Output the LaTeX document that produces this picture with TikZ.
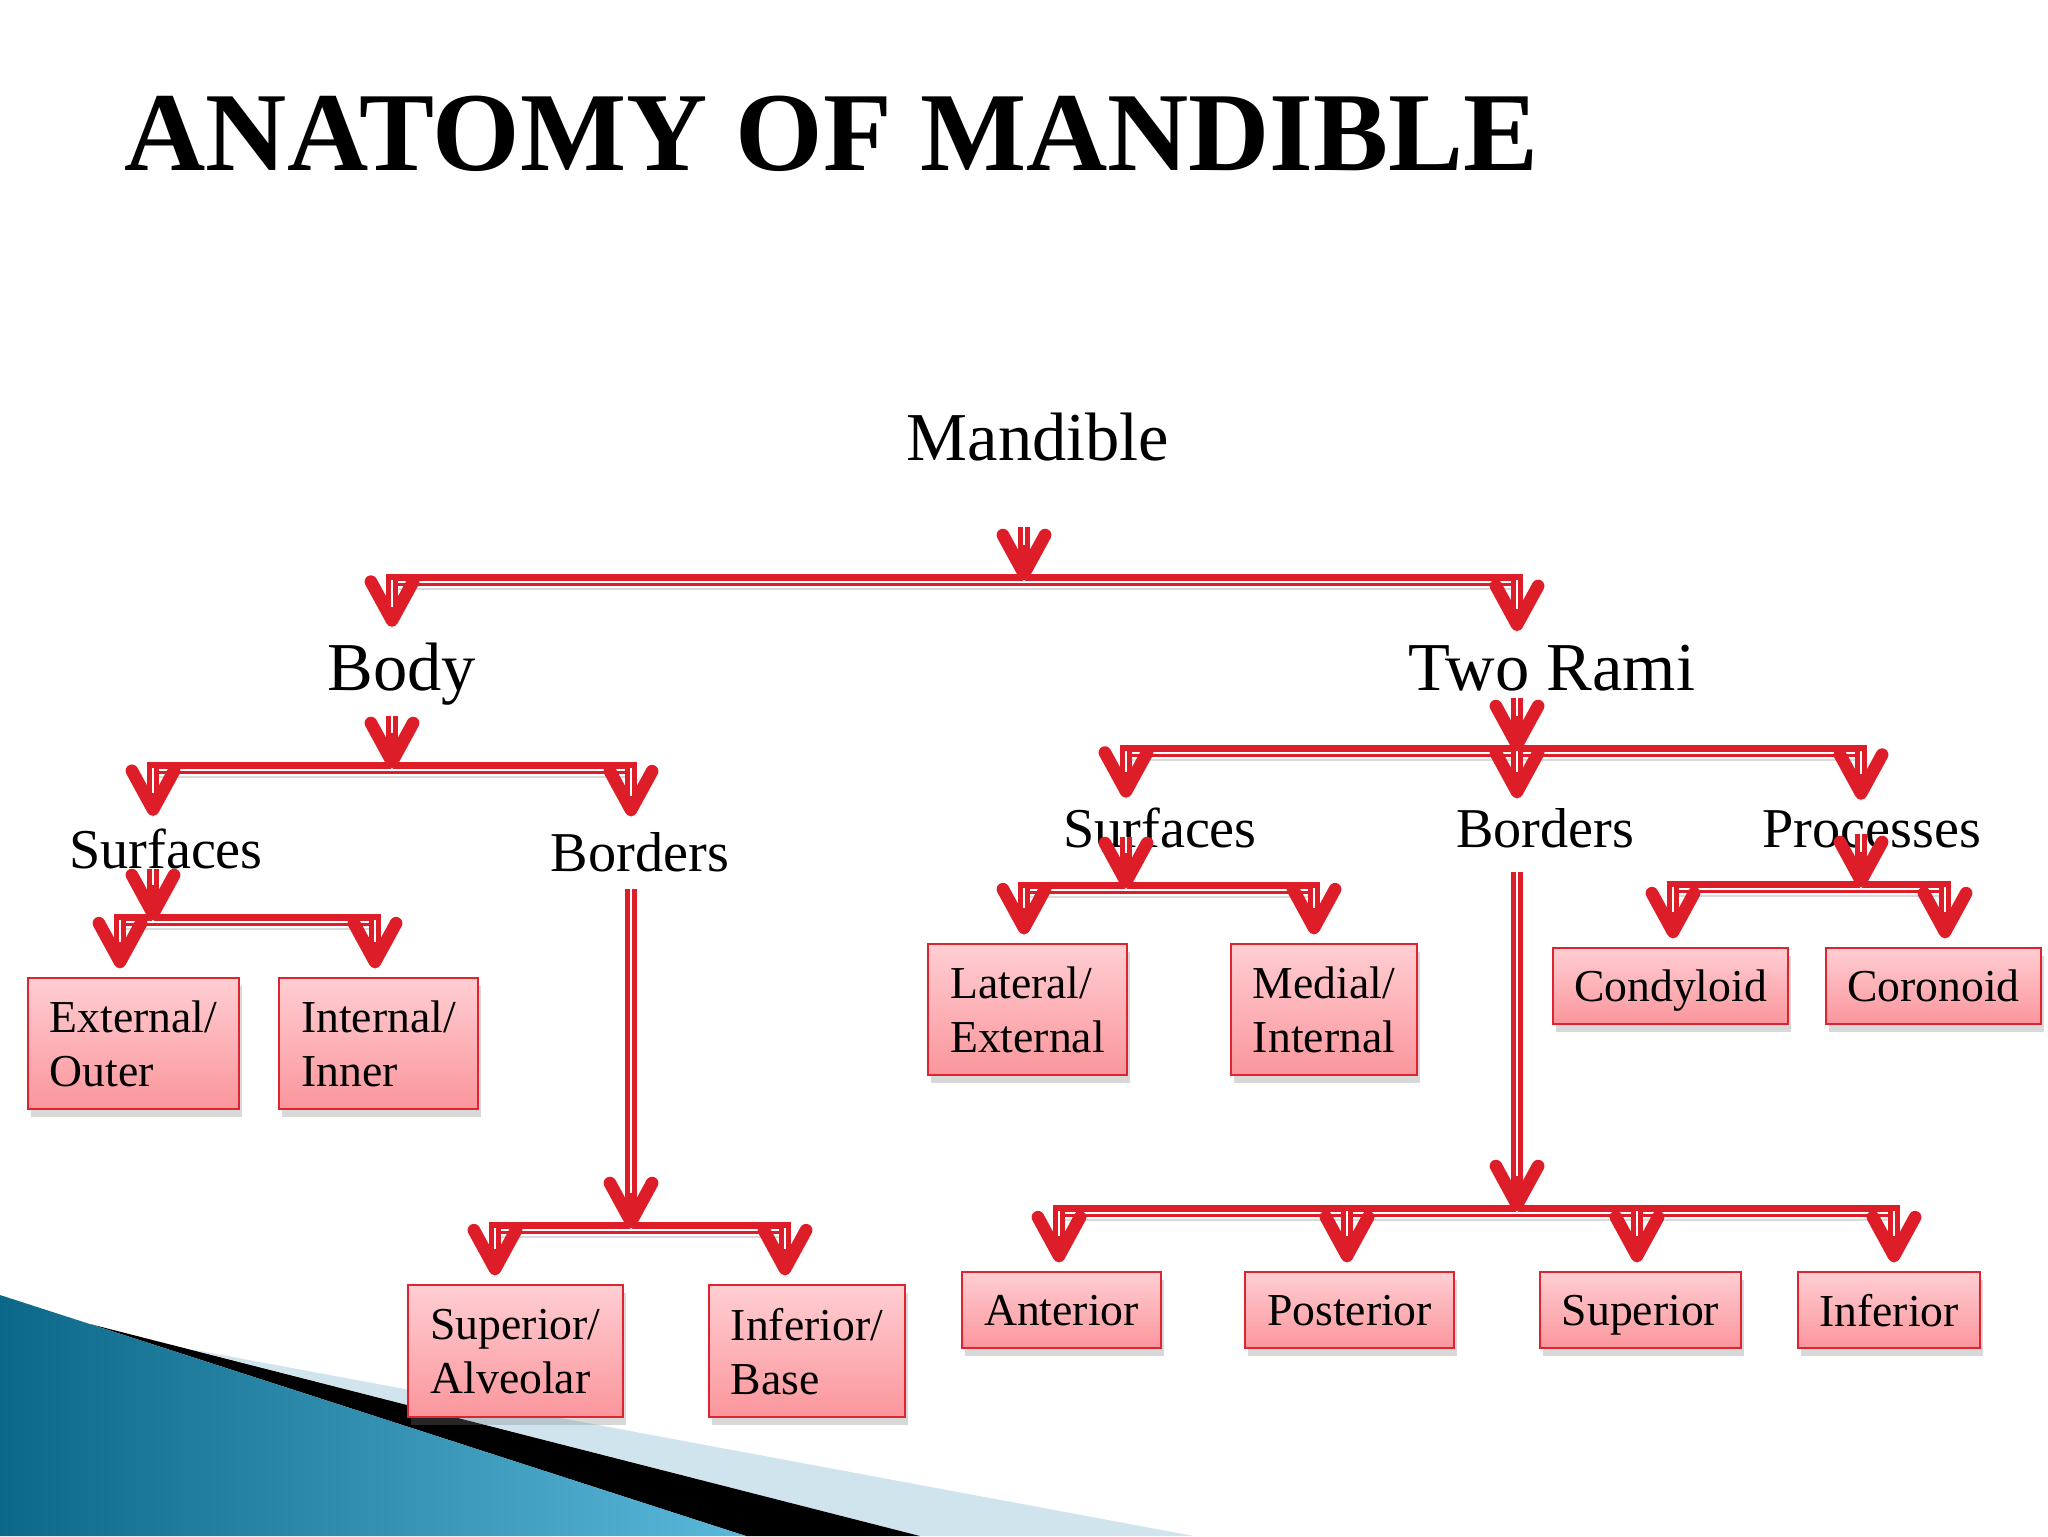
\documentclass[tikz,border=0pt]{standalone}
\usepackage{fontspec}
\setmainfont{Liberation Serif}
\usepackage{tikz}
\usetikzlibrary{arrows.meta, shadows, calc, positioning}

\definecolor{linkred}{RGB}{221,30,40}
\definecolor{boxline}{RGB}{222,36,48}
\definecolor{boxtop}{RGB}{255,206,210}
\definecolor{boxbot}{RGB}{250,150,156}
\definecolor{waveblue}{RGB}{12,104,136}
\definecolor{wavelight}{RGB}{90,184,218}
\definecolor{wavepale}{RGB}{208,228,237}

\begin{document}
\begin{tikzpicture}[
    x = 0.1mm, y = -0.1mm,
    title/.style = {
      anchor = base west, inner sep = 0pt,
      font = \fontsize{32}{38}\selectfont\bfseries
    },
    top/.style = {
      anchor = base, inner sep = 0pt, font = \fontsize{19.5}{23}\selectfont
    },
    part/.style = {
      anchor = base, inner sep = 0pt, font = \fontsize{16}{19}\selectfont
    },
    box/.style = {
      rectangle, draw = boxline, line width = .6pt,
      top color = boxtop, bottom color = boxbot,
      align = left, inner sep = 0pt, text depth = 0pt,
      font = \fontsize{13}{15.4}\selectfont,
      drop shadow = {shadow xshift = .8pt, shadow yshift = -2.4pt, opacity = .3}
    },
    link/.style = {
      draw = linkred, line width = 3.6pt,
      -{Straight Barb[round, length = 11pt, width = 12pt]},
      preaction = {draw = black!15, transform canvas = {yshift = -2pt}},
      postaction = {draw = white, line width = .5pt, -, shorten >= 10pt}
    },
    bar/.style = {
      draw = linkred, line width = 3.6pt, line cap = rect,
      preaction = {draw = black!15, transform canvas = {yshift = -2.5pt}},
      postaction = {
        draw = white, line width = .5pt, line cap = butt,
        transform canvas = {yshift = -.6pt}
      }
    },
    ]

    % page and wave
    \fill[white] (0,0) rectangle (2048,1536);
    \useasboundingbox (0,0) rectangle (2048,1536);
    \fill[wavepale] (190,1349) -- (1194,1536) -- (920,1536) -- cycle;
    \fill[black] (90,1324) -- (920,1536) -- (746,1536) -- cycle;
    \shade[left color = waveblue, right color = wavelight]
      (0,1295) -- (746,1536) -- (0,1536) -- cycle;

    % title and headings
    \node  [title]  (title)  at (124,170)  {ANATOMY OF MANDIBLE};
    \node  [top]  (mand)  at (1038,460)  {Mandible};
    \node  [top]  (body)  at (402,690)  {Body};
    \node  [top]  (rami)  at (1552,690)  {Two Rami};
    \node  [part]  (bsurf)  at (166,868)  {Surfaces};
    \node  [part]  (bbord)  at (640,871)  {Borders};
    \node  [part]  (rsurf)  at (1160,847)  {Surfaces};
    \node  [part]  (rbord)  at (1545,847)  {Borders};
    \node  [part]  (rproc)  at (1872,847)  {Processes};

    % draw boxes
    \node  [box, minimum width = 21.1mm, minimum height = 13.1mm]  (bext)  at (133.5,1043.5)  {External/\\Outer};
    \node  [box, minimum width = 19.9mm, minimum height = 13.1mm]  (bint)  at (378.5,1043.5)  {Internal/\\Inner};
    \node  [box, minimum width = 21.5mm, minimum height = 13.2mm]  (bsup)  at (515.5,1351)  {Superior/\\Alveolar};
    \node  [box, minimum width = 19.6mm, minimum height = 13.2mm]  (binf)  at (807,1351)  {Inferior/\\Base};
    \node  [box, minimum width = 19.9mm, minimum height = 13.1mm]  (rlat)  at (1027.5,1009.5)  {Lateral/\\External};
    \node  [box, minimum width = 18.6mm, minimum height = 13.1mm]  (rmed)  at (1324,1009.5)  {Medial/\\Internal};
    \node  [box, minimum width = 23.5mm, minimum height = 7.6mm]  (cond)  at (1670.5,986)  {Condyloid};
    \node  [box, minimum width = 21.5mm, minimum height = 7.6mm]  (coro)  at (1933.5,986)  {Coronoid};
    \foreach \n/\x/\w/\t in {ant/1061.5/19.9/Anterior, post/1349.5/20.9/Posterior,
                             sup/1640.5/20.1/Superior, inf/1889/18.2/Inferior}
    \node  [box, minimum width = \w mm, minimum height = 7.6mm]  (\n)  at (\x,1310)  {\t};

    % bar points
    \coordinate (m1l) at (392,580);  \coordinate (m1m) at (1024,580);  \coordinate (m1r) at (1517,580);
    \coordinate (b1l) at (153,768);  \coordinate (b1m) at (392,768);   \coordinate (b1r) at (631,768);
    \coordinate (b2l) at (120,920);  \coordinate (b2m) at (153,920);   \coordinate (b2r) at (375,920);
    \coordinate (b3l) at (495,1228); \coordinate (b3m) at (631,1228);  \coordinate (b3r) at (785,1228);
    \coordinate (r1l) at (1126,751); \coordinate (r1m) at (1517,751);  \coordinate (r1r) at (1861,751);
    \coordinate (r2l) at (1024,888); \coordinate (r2m) at (1126,888);  \coordinate (r2r) at (1314,888);
    \coordinate (r3l) at (1673,887); \coordinate (r3m) at (1861,887);  \coordinate (r3r) at (1945,887);
    \coordinate (r4m) at (1517,1211);
    \coordinate (r4a) at (1059,1211); \coordinate (r4b) at (1347,1211);
    \coordinate (r4c) at (1637,1211); \coordinate (r4d) at (1894,1211);

    % draw bars
    \foreach \b in {m1, b1, b2, b3, r1, r2, r3}
    \draw  [bar]  (\b l)  --  (\b r);
    \draw  [bar]  (r4a)  --  (r4d);

    % draw paths down from the headings
    \draw  [link, shorten <= 18.8pt]  (mand.south -| m1m)  --  (m1m);
    \draw  [link, shorten <= 3.1pt]  (body.south -| b1m)  --  (b1m);
    \draw  [link, shorten <= 2pt]  (rami.south -| r1m)  --  (r1m);
    \draw  [link, shorten <= 0pt]  (bsurf.south -| b2m)  --  (b2m);
    \draw  [link, shorten <= 4.8pt]  (bbord.south -| b3m)  --  (b3m);
    \draw  [link, shorten <= -3.1pt]  (rsurf.south -| r2m)  --  (r2m);
    \draw  [link, shorten <= 6.8pt]  (rbord.south -| r4m)  --  (r4m);
    \draw  [link, shorten <= -4pt]  (rproc.south -| r3m)  --  (r3m);

    % draw paths into the headings
    \draw  [link, shorten >= 4.3pt]  (m1l)  --  (m1l |- body.north);
    \draw  [link, shorten >= 3.7pt]  (m1r)  --  (m1r |- rami.north);
    \draw  [link, shorten >= 3.4pt]  (b1l)  --  (b1l |- bsurf.north);
    \draw  [link, shorten >= 4.3pt]  (b1r)  --  (b1r |- bbord.north);
    \draw  [link, shorten >= 2.6pt]  (r1l)  --  (r1l |- rsurf.north);
    \draw  [link, shorten >= 2.6pt]  (r1m)  --  (r1m |- rbord.north);
    \draw  [link, shorten >= 2.8pt]  (r1r)  --  (r1r |- rproc.north);

    % draw paths into the boxes
    \foreach \c/\n in {b2l/bext, b2r/bint, b3l/bsup, b3r/binf, r2l/rlat, r2r/rmed,
                       r3l/cond, r3r/coro, r4a/ant, r4b/post, r4c/sup, r4d/inf}
    \draw  [link, shorten >= 2.5pt]  (\c)  --  (\c |- \n.north);
\end{tikzpicture}
\end{document}
